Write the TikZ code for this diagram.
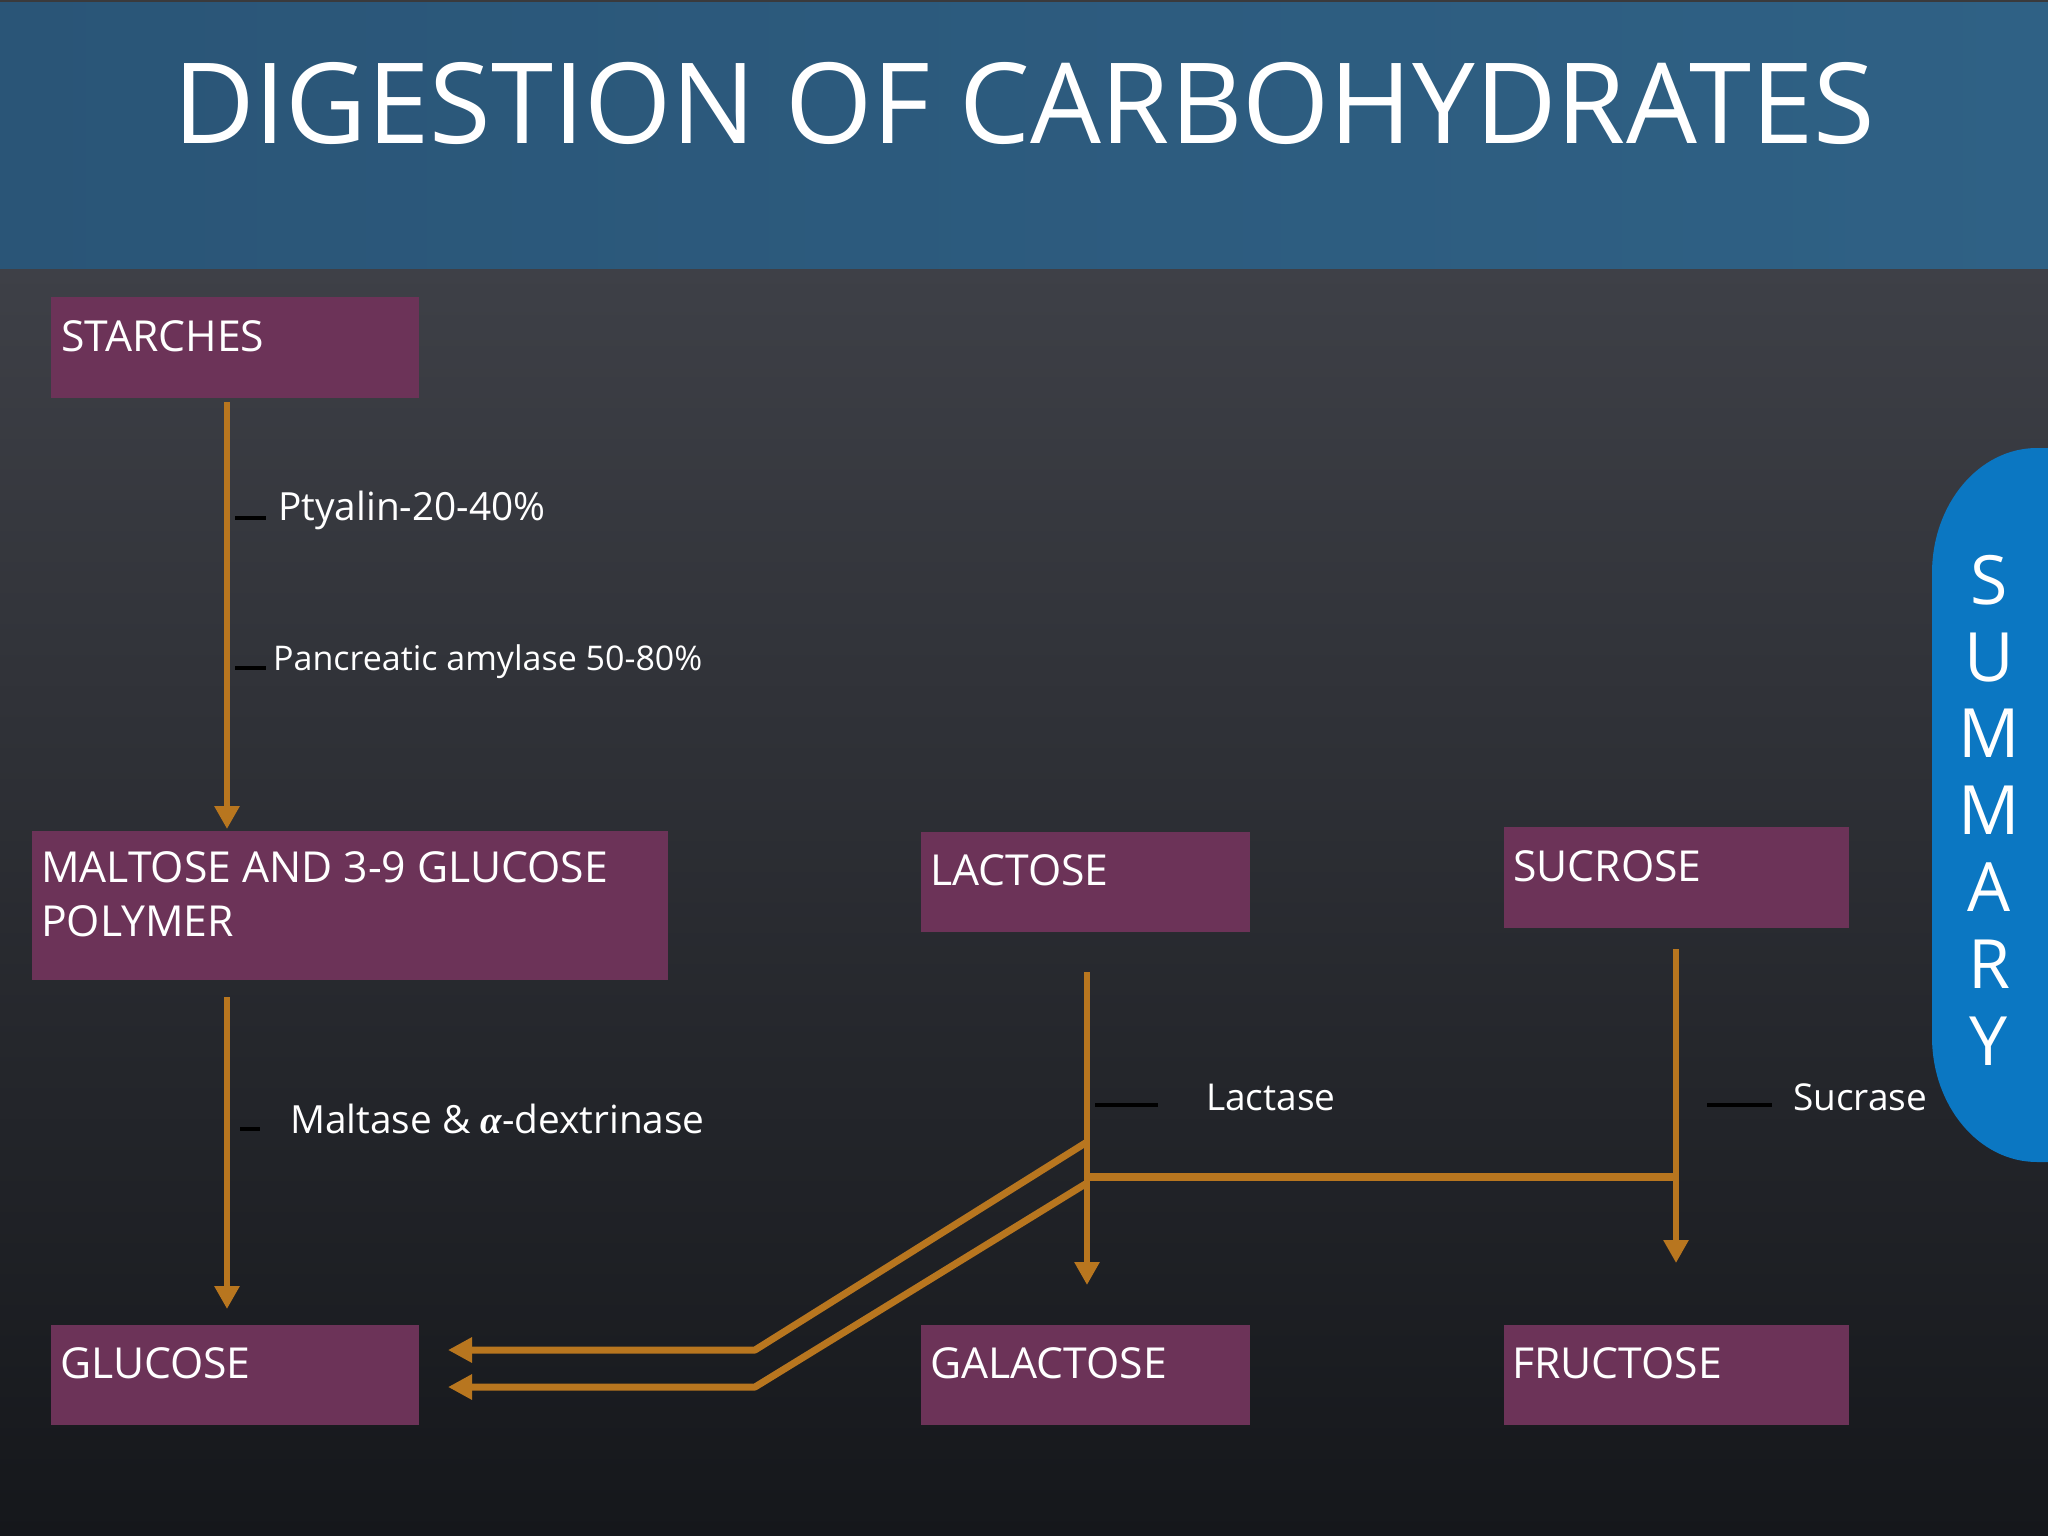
\documentclass[tikz,border=0pt]{standalone}
\usepackage{fontspec}
\setmainfont{Open Sans}
\newfontfamily\alphafont{Liberation Serif}
\usetikzlibrary{arrows.meta}
\definecolor{boxfill}{HTML}{6C3358}
\definecolor{arrowc}{HTML}{B8761F}
\definecolor{bandblue}{HTML}{2A5577}
\definecolor{bandblue2}{HTML}{2F6185}
\definecolor{tabblue}{HTML}{0B77C2}
\definecolor{bgtop}{HTML}{3E4047}
\definecolor{bgbot}{HTML}{15171B}
\definecolor{stripc}{HTML}{3A3A3C}
\tikzset{
  box/.style={fill=boxfill, inner sep=0pt, draw=none},
  boxtext/.style={anchor=base west, inner sep=0pt, text=white, font=\fontsize{42.7}{52}\selectfont},
  lbl/.style={anchor=base west, inner sep=0pt, text=white},
  flow/.style={draw=arrowc, line width=6pt, -{Triangle[length=23pt,width=24pt]}},
  flowwide/.style={draw=arrowc, line width=7pt, line join=round, -{Triangle[length=24pt,width=24pt]}},
  joinline/.style={draw=arrowc, line width=8pt},
  tickline/.style={draw=black, line width=4pt},
}
\begin{document}
\begin{tikzpicture}[x=1pt,y=-1pt]
\useasboundingbox (0,0) rectangle (2048,1536);
% background
\shade[top color=bgtop, bottom color=bgbot] (0,268) rectangle (2048,1536);
\fill[stripc] (0,0) rectangle (2048,3);
\shade[left color=bandblue, right color=bandblue2] (0,3) rectangle (2048,268);
% title
\node[anchor=base, inner sep=0pt, text=white, font=\fontsize{112}{134}\selectfont] (title) at (1024,143) {DIGESTION OF CARBOHYDRATES};
% summary tab
\fill[tabblue] (2048,448) -- (2037,448) arc[start angle=90, end angle=180, x radius=105pt, y radius=125pt]
  -- (1932,1037) arc[start angle=180, end angle=270, x radius=105pt, y radius=125pt] -- (2048,1162) -- cycle;
\node[align=center, inner sep=0pt, text=white, font=\fontsize{68}{76.8}\selectfont] (summary) at (1989,810) {S\\U\\M\\M\\A\\R\\Y};
% boxes
\node[box, minimum width=368pt, minimum height=101pt] (starch) at (235,347.5) {};
\node[box, minimum width=636pt, minimum height=149pt] (maltose) at (350,905.5) {};
\node[box, minimum width=329pt, minimum height=100pt] (lactose) at (1085.5,882) {};
\node[box, minimum width=345pt, minimum height=101pt] (sucrose) at (1676.5,877.5) {};
\node[box, minimum width=368pt, minimum height=100pt] (glucose) at (235,1375) {};
\node[box, minimum width=329pt, minimum height=100pt] (galactose) at (1085.5,1375) {};
\node[box, minimum width=345pt, minimum height=100pt] (fructose) at (1676.5,1375) {};
% box texts
\node[boxtext] (tstarch) at (61,351) {STARCHES};
\node[boxtext] (tmalt1) at (41,882) {MALTOSE AND 3-9 GLUCOSE};
\node[boxtext] (tmalt2) at (41,936) {POLYMER};
\node[boxtext] (tlact) at (930,885) {LACTOSE};
\node[boxtext] (tsucr) at (1513,881) {SUCROSE};
\node[boxtext] (tgluc) at (60,1378) {GLUCOSE};
\node[boxtext] (tgala) at (930,1378) {GALACTOSE};
\node[boxtext] (tfruc) at (1512,1378) {FRUCTOSE};
% coordinates for connectors
\coordinate (sa) at (227,402);
\coordinate (sb) at (227,829);
\coordinate (ma) at (227,997);
\coordinate (mb) at (227,1309);
\coordinate (la) at (1087,972);
\coordinate (lb) at (1087,1285);
\coordinate (sua) at (1676,949);
\coordinate (sub) at (1676,1263);
\coordinate (hj1) at (1087,1177);
\coordinate (hj2) at (1676,1177);
\coordinate (d1a) at (1087,1142);
\coordinate (d1b) at (755,1350);
\coordinate (d1c) at (448,1350);
\coordinate (d2a) at (1087,1183);
\coordinate (d2b) at (755,1387);
\coordinate (d2c) at (448,1387);
% connectors
\draw[flow] (sa) -- (sb);
\draw[flow] (ma) -- (mb);
\draw[flow] (la) -- (lb);
\draw[flow] (sua) -- (sub);
\draw[joinline] (hj1) -- (hj2);
\draw[flowwide] (d1a) -- (d1b) -- (d1c);
\draw[flowwide] (d2a) -- (d2b) -- (d2c);
% ticks
\coordinate (t1a) at (235,518); \coordinate (t1b) at (266,518);
\coordinate (t2a) at (235,668); \coordinate (t2b) at (266,668);
\coordinate (t3a) at (240,1129); \coordinate (t3b) at (260,1129);
\coordinate (t4a) at (1095,1105); \coordinate (t4b) at (1158,1105);
\coordinate (t5a) at (1707,1105); \coordinate (t5b) at (1772,1105);
\draw[tickline] (t1a) -- (t1b);
\draw[tickline] (t2a) -- (t2b);
\draw[tickline] (t3a) -- (t3b);
\draw[tickline] (t4a) -- (t4b);
\draw[tickline] (t5a) -- (t5b);
% enzyme labels
\node[lbl, font=\fontsize{38.8}{46}\selectfont] (ptyalin) at (278,520) {Ptyalin-20-40\%};
\node[lbl, font=\fontsize{34}{42}\selectfont] (pancreatic) at (273,670) {Pancreatic amylase 50-80\%};
\node[lbl, font=\fontsize{38.8}{46}\selectfont] (maltase) at (290,1133) {Maltase \& {\alphafont\bfseries\itshape α}-dextrinase};
\node[lbl, font=\fontsize{37}{45}\selectfont] (lactase) at (1206,1110) {Lactase};
\node[lbl, font=\fontsize{37}{45}\selectfont] (sucrase) at (1793,1110) {Sucrase};
\end{tikzpicture}
\end{document}
